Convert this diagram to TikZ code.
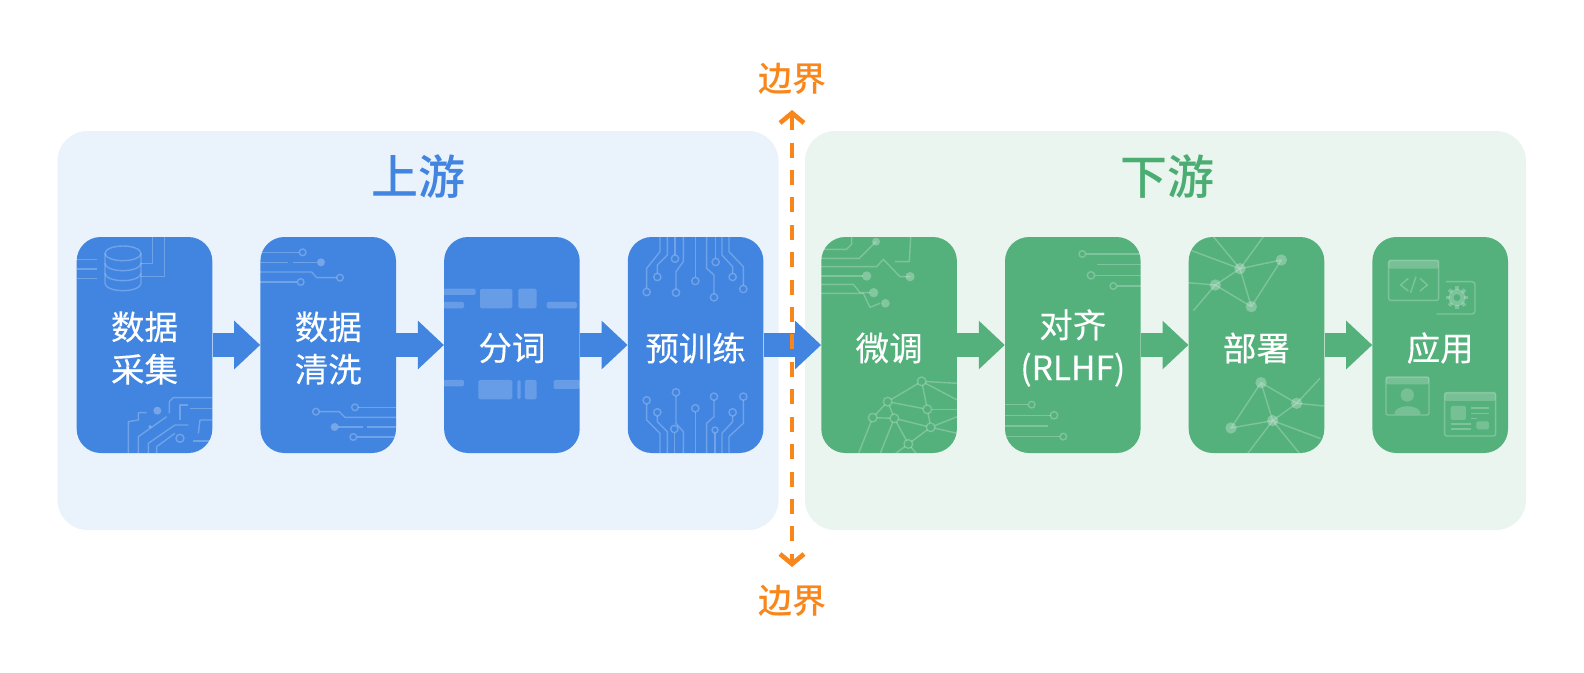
\documentclass[tikz,border=0pt]{standalone}
\usepackage{fontspec}
\setmainfont{Noto Sans CJK SC}
\newfontfamily\cjklabel[FakeBold=0.25]{Noto Sans CJK SC}
\newfontfamily\cjktitle{Noto Sans CJK SC Medium}
\usepackage{xcolor}
\definecolor{colorUp}{HTML}{4285E0}
\definecolor{colorDown}{HTML}{55B17C}
\definecolor{colorUpBack}{HTML}{EAF2FC}
\definecolor{colorDownBack}{HTML}{EAF5EF}
\definecolor{colorDownText}{HTML}{4CAD73}
\definecolor{colorBorder}{HTML}{F9861A}
\usetikzlibrary{arrows.meta, positioning}
\tikzset{
  panel/.style={rounded corners=30pt, minimum width=721pt, minimum height=399pt, inner sep=0pt},
  stepbox/.style={rounded corners=24pt, minimum width=135.6pt, minimum height=216pt, inner sep=0pt},
  steplabel/.style={align=center, text=white, yshift=-3pt, font=\cjklabel\fontsize{33.5}{42.5}\selectfont},
  flowup/.style={-{Triangle[length=26pt,width=47pt]}, line width=24pt, colorUp},
  flowdown/.style={-{Triangle[length=26pt,width=47pt]}, line width=24pt, colorDown},
  title/.style={font=\cjktitle\fontsize{47}{50}\selectfont},
  bordertext/.style={text=colorBorder, font=\cjktitle\fontsize{34}{36}\selectfont},
  zoomed/.style 2 args={shift={(#1,#2)}, x=0.3333pt, y=-0.3333pt},
  trace/.style={draw=white, draw opacity=.24, line width=1.4pt, line join=round},
  solid dot/.style={fill=white, fill opacity=.28},
  block/.style={fill=white, fill opacity=.2, rounded corners=1.5pt},
}
\newcommand{\ring}[2]{\draw[trace] #1 circle (#2);}
\newcommand{\soliddot}[2]{\fill[solid dot] #1 circle (#2);}
\begin{document}
\begin{tikzpicture}[x=1pt, y=-1pt, node distance=47.7pt]
\useasboundingbox (0,0) rectangle (1584,672);
\node[panel, fill=colorUpBack] (up) at (418,330.5) {};
\node[panel, fill=colorDownBack] (down) at (1165.5,330.5) {};
\node[title, text=colorUp] (uptitle) at (418,177) {上游};
\node[title, text=colorDownText] (downtitle) at (1167,177) {下游};
\node[stepbox, fill=colorUp] (b1) at (144.5,345) {};
\node[stepbox, fill=colorUp, right=of b1] (b2) {};
\node[stepbox, fill=colorUp, right=of b2] (b3) {};
\node[stepbox, fill=colorUp, right=of b3] (b4) {};
\node[stepbox, fill=colorDown, right=57.5pt of b4] (b5) {};
\node[stepbox, fill=colorDown, right=of b5] (b6) {};
\node[stepbox, fill=colorDown, right=of b6] (b7) {};
\node[stepbox, fill=colorDown, right=of b7] (b8) {};
\foreach \n/\t in {b1/{数据\\采集}, b2/{数据\\清洗}, b3/{分词}, b4/{预训练}, b5/{微调}, b6/{对齐\\(RLHF)}, b7/{部署}, b8/{应用}} {
  \node[steplabel] (\n text) at (\n) {\t};
}
\draw[flowup] (b1) -- (b2);
\draw[flowup] (b2) -- (b3);
\draw[flowup] (b3) -- (b4);
\draw[flowup] (b4) -- (b5);
\draw[flowdown] (b5) -- (b6);
\draw[flowdown] (b6) -- (b7);
\draw[flowdown] (b7) -- (b8);
% boundary
\node[bordertext] (edgetop) at (792,79) {边界};
\node[bordertext] (edgebottom) at (792,601) {边界};
\coordinate (tiptop) at (792,110);
\coordinate (tipbottom) at (792,567);
\draw[{Straight Barb[length=10pt,width=24pt]}-{Straight Barb[length=10pt,width=24pt]}, colorBorder, line width=4.6pt, dash pattern=on 15pt off 12.4pt] (tiptop) -- (tipbottom);
% box 1
\begin{scope}
\clip[rounded corners=24pt] (b1.south west) rectangle (b1.north east);
\begin{scope}[zoomed={60}{220}]
\draw[trace] (135,100) -- (135,190) arc[start angle=180, end angle=360, x radius=54, y radius=-22] -- (243,100);
\draw[trace] (189,100) ellipse (54 and 22);
\draw[trace] (135,130) arc[start angle=180, end angle=360, x radius=54, y radius=-22];
\draw[trace] (135,160) arc[start angle=180, end angle=360, x radius=54, y radius=-22];
\foreach \y in {118,147,176} {\draw[trace] (50,\y) -- (112,\y);}
\draw[trace] (278,52) -- (278,130) -- (243,130);
\draw[trace] (314,52) -- (314,170) -- (243,170);
\draw[trace] (457,533) -- (340,533) -- (328,545) -- (328,580);
\draw[trace] (457,565) -- (390,565);
\draw[trace] (385,555) -- (360,555) -- (360,600);
\draw[trace] (457,600) -- (420,600) -- (415,640);
\draw[trace] (205,700) -- (205,605) -- (235,600) -- (235,578) -- (260,578);
\draw[trace] (235,700) -- (235,650) -- (320,590);
\draw[trace] (265,700) -- (265,670) -- (345,615) -- (385,615);
\draw[trace] (290,700) -- (290,680) -- (345,640);
\soliddot{(292,572)}{12}
\ring{(360,655)}{12}
\soliddot{(270,620)}{5}
\draw[trace] (400,663) -- (455,663);
\end{scope}
\end{scope}
% box 2
\begin{scope}
\clip[rounded corners=24pt] (b2.south west) rectangle (b2.north east);
\begin{scope}[zoomed={60}{220}]
\draw[trace] (600,97) -- (718,97); \ring{(728,97)}{10}
\draw[trace] (600,127) -- (685,127);
\draw[trace] (698,127) -- (770,127); \soliddot{(783,127)}{12}
\draw[trace] (600,156) -- (755,156) -- (770,173) -- (830,173); \ring{(840,173)}{10}
\draw[trace] (600,186) -- (712,186); \ring{(722,186)}{10}
\draw[trace] (1010,562) -- (895,562); \ring{(885,562)}{10}
\draw[trace] (1010,592) -- (855,592) -- (838,575) -- (778,575); \ring{(768,575)}{10}
\draw[trace] (1010,621) -- (922,621);
\draw[trace] (910,621) -- (835,621); \soliddot{(824,621)}{12}
\draw[trace] (1010,651) -- (890,651); \ring{(880,651)}{10}
\end{scope}
\end{scope}
% box 3
\begin{scope}
\clip[rounded corners=24pt] (b3.south west) rectangle (b3.north east);
\begin{scope}[zoomed={430}{220}]
\foreach \a/\b in {{(40,206)}/{(137,225)}, {(40,246)}/{(102,265)}, {(150,207)}/{(247,265)}, {(265,206)}/{(320,265)}, {(350,246)}/{(441,265)}, {(40,480)}/{(102,499)}, {(145,480)}/{(247,538)}, {(262,480)}/{(272,538)}, {(285,480)}/{(320,538)}, {(371,480)}/{(450,507)}} {\fill[block] \a rectangle \b;}
\end{scope}
\end{scope}
% box 4
\begin{scope}
\clip[rounded corners=24pt] (b4.south west) rectangle (b4.north east);
\begin{scope}[zoomed={430}{220}]
\draw[trace] (690,50) -- (690,95) -- (650,145) -- (650,205); \ring{(650,216)}{11}
\draw[trace] (712,50) -- (712,105) -- (682,135) -- (682,160); \ring{(682,171)}{11}
\draw[trace] (735,50) -- (735,105); \ring{(735,116)}{11}
\draw[trace] (760,50) -- (760,125) -- (738,155) -- (738,207); \ring{(738,218)}{11}
\draw[trace] (796,50) -- (796,172); \ring{(796,183)}{11}
\draw[trace] (830,50) -- (830,145) -- (852,165) -- (852,221); \ring{(852,232)}{11}
\draw[trace] (857,50) -- (857,115); \ring{(857,126)}{11}
\draw[trace] (876,50) -- (876,105) -- (908,140) -- (908,160); \ring{(908,171)}{11}
\draw[trace] (897,50) -- (897,95) -- (940,140) -- (940,196); \ring{(940,207)}{11}
\draw[trace] (690,702) -- (690,640) -- (650,600) -- (650,552); \ring{(650,541)}{11}
\draw[trace] (712,702) -- (712,635) -- (682,605) -- (682,588); \ring{(682,577)}{11}
\draw[trace] (733,702) -- (733,638); \ring{(733,627)}{11}
\draw[trace] (760,702) -- (760,635) -- (738,610) -- (738,528); \ring{(738,517)}{11}
\draw[trace] (796,702) -- (796,576); \ring{(796,565)}{11}
\draw[trace] (830,702) -- (830,610) -- (852,590) -- (852,541); \ring{(852,530)}{11}
\draw[trace] (855,702) -- (855,640); \ring{(855,630)}{9}
\draw[trace] (876,702) -- (876,640) -- (908,605) -- (908,588); \ring{(908,577)}{11}
\draw[trace] (897,702) -- (897,650) -- (940,610) -- (940,541); \ring{(940,530)}{11}
\end{scope}
\end{scope}
% box 5
\begin{scope}
\clip[rounded corners=24pt] (b5.south west) rectangle (b5.north east);
\begin{scope}[zoomed={800}{220}]
\draw[trace] (62,88) -- (140,88) -- (155,72) -- (155,50);
\draw[trace] (62,115) -- (178,115) -- (228,65); \soliddot{(228,65)}{12}
\draw[trace] (62,140) -- (230,140) -- (250,118) -- (300,170) -- (330,170); \soliddot{(330,170)}{14}
\draw[trace] (62,168) -- (188,168); \soliddot{(200,168)}{14}
\draw[trace] (62,193) -- (160,193) -- (180,218) -- (210,218); \soliddot{(221,218)}{14}
\draw[trace] (62,220) -- (190,220) -- (210,262) -- (240,250); \soliddot{(256,250)}{13}
\draw[trace] (285,125) -- (328,125) -- (332,50);
\foreach \a/\b in {365/484, 263/545, 382/568, 218/593, 283/595, 392/622, 325/672} {\coordinate (n\a) at (\a,\b);}
\foreach \a/\b in {365/263, 365/382, 263/382, 263/218, 263/283, 218/283, 283/392, 283/325, 392/325, 382/392} {\draw[trace] (n\a) -- (n\b);}
\draw[trace] (n365) -- (472,490);
\draw[trace] (n365) -- (472,540);
\draw[trace] (n382) -- (472,568);
\draw[trace] (n392) -- (472,590);
\draw[trace] (n392) -- (472,640);
\draw[trace] (n218) -- (175,702);
\draw[trace] (n283) -- (240,702);
\draw[trace] (n325) -- (285,702);
\draw[trace] (n325) -- (350,702);
\foreach \a in {365,263,382,218,283,392,325} {\fill[colorDown] (n\a) circle (13); \ring{(n\a)}{13}}
\end{scope}
\end{scope}
% box 6
\begin{scope}
\clip[rounded corners=24pt] (b6.south west) rectangle (b6.north east);
\begin{scope}[zoomed={800}{220}]
\draw[trace] (1024,102) -- (858,102); \ring{(847,102)}{10}
\draw[trace] (1024,134) -- (890,134);
\draw[trace] (1024,166) -- (885,166); \ring{(873,166)}{11}
\draw[trace] (1024,198) -- (950,198); \ring{(940,198)}{10}
\draw[trace] (612,554) -- (685,554); \ring{(695,554)}{10}
\draw[trace] (612,586) -- (752,586); \ring{(762,586)}{11}
\draw[trace] (612,618) -- (745,618);
\draw[trace] (612,650) -- (780,650); \ring{(790,650)}{10}
\end{scope}
\end{scope}
% box 7
\begin{scope}
\clip[rounded corners=24pt] (b7.south west) rectangle (b7.north east);
\begin{scope}[zoomed={1160}{220}]
\coordinate (A) at (240,146); \coordinate (B) at (364,120); \coordinate (C) at (166,195); \coordinate (D) at (274,260);
\coordinate (E) at (303,488); \coordinate (F) at (410,550); \coordinate (G) at (338,602); \coordinate (H) at (213,624);
\draw[trace] (A) -- (B) -- (D) -- (C) -- (A) -- (D);
\draw[trace] (A) -- (160,50) (A) -- (310,50) (A) -- (95,92) (C) -- (82,188) (C) -- (100,272);
\draw[trace] (E) -- (F) -- (G) -- (H) -- (E) -- (G);
\draw[trace] (F) -- (480,475) (F) -- (494,558) (G) -- (482,656) (G) -- (420,702) (G) -- (262,702);
\foreach \p in {A,B,C,D,E,F,G,H} {\soliddot{(\p)}{17}}
\end{scope}
\end{scope}
% box 8
\begin{scope}
\clip[rounded corners=24pt] (b8.south west) rectangle (b8.north east);
\begin{scope}[zoomed={1160}{220}]
\draw[trace, rounded corners=2pt] (686,121) rectangle (836,241);
\fill[block] (686,121) rectangle (836,146);
\draw[trace] (745,175) -- (722,195) -- (745,213) (780,175) -- (802,195) -- (780,213) (768,170) -- (752,218);
\draw[trace, rounded corners=3pt] (858,185) -- (945,185) -- (945,282) -- (830,282);
\draw[trace, line width=5pt] (891,233) circle (18);
\foreach \t in {0,45,...,315} {\draw[trace, line width=3.5pt] (891,233) ++(\t:22) -- ++(\t:12);}
\draw[trace, rounded corners=2pt] (678,471) rectangle (807,585);
\fill[block] (678,471) rectangle (807,493);
\fill[block] (742,525) circle (20);
\fill[block] (702,583) .. controls (710,552) and (775,552) .. (783,583) -- cycle;
\draw[trace, rounded corners=2pt] (854,518) rectangle (1007,648);
\fill[block] (854,518) rectangle (1007,543);
\fill[block] (872,558) rectangle (918,600);
\fill[block] (949,604) rectangle (987,628);
\draw[trace] (933,564) -- (987,564) (933,580) -- (987,580) (933,595) -- (952,595) (872,612) -- (932,612) (872,627) -- (932,627);
\end{scope}
\end{scope}
\end{tikzpicture}
\end{document}
